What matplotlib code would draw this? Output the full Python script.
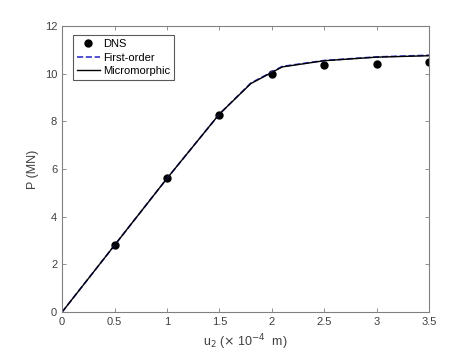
import matplotlib
matplotlib.use('Agg')
import matplotlib.pyplot as plt

# DNS points
u_dns = [0.5, 1.0, 1.5, 2.0, 2.5, 3.0, 3.5]
p_dns = [2.8, 5.62, 8.28, 10.0, 10.35, 10.42, 10.5]

# First-order model
u_fo = [0, 0.5, 1.0, 1.5, 1.8, 2.1, 2.5, 3.0, 3.5]
p_fo = [0, 2.8, 5.6, 8.3, 9.6, 10.3, 10.55, 10.7, 10.77]

# Micromorphic model
u_mm = [0, 0.5, 1.0, 1.5, 1.8, 2.1, 2.5, 3.0, 3.5]
p_mm = [0, 2.8, 5.6, 8.3, 9.58, 10.28, 10.54, 10.69, 10.75]

axcol = '#808080'
plt.rcParams['font.family'] = 'Liberation Sans'

fig = plt.figure(figsize=(4.74, 3.55), dpi=100)
ax = fig.add_axes([0.131, 0.121, 0.774, 0.806])

ax.plot(u_dns, p_dns, 'o', color='black', markersize=5, label='DNS')
ax.plot(u_fo, p_fo, '--', color='#3333cc', linewidth=1.2, label='First-order')
ax.plot(u_mm, p_mm, '-', color='black', linewidth=1.0, label='Micromorphic')

ax.set_xlim(0, 3.5)
ax.set_ylim(0, 12)
ax.set_xticks([0, 0.5, 1, 1.5, 2, 2.5, 3, 3.5])
ax.set_xticklabels(['0', '0.5', '1', '1.5', '2', '2.5', '3', '3.5'])
ax.set_yticks(range(0, 13, 2))

for s in ax.spines.values():
    s.set_color(axcol)
    s.set_linewidth(0.8)
ax.tick_params(direction='in', top=True, right=True, length=3, width=0.6,
               color=axcol, labelcolor='#404040', labelsize=8)

ax.set_xlabel(r'u$_2$ ($\times$ 10$^{-4}$  m)', fontsize=9, color='#404040')
ax.set_ylabel('P (MN)', fontsize=9, color='#404040')

leg = ax.legend(loc='upper left', bbox_to_anchor=(0.025, 0.975), fontsize=8,
                frameon=True, fancybox=False, edgecolor='#303030',
                borderpad=0.35, labelspacing=0.3, handlelength=2.0,
                handletextpad=0.3, borderaxespad=0.2)
leg.get_frame().set_linewidth(0.8)

fig.savefig('out.png', dpi=100)
